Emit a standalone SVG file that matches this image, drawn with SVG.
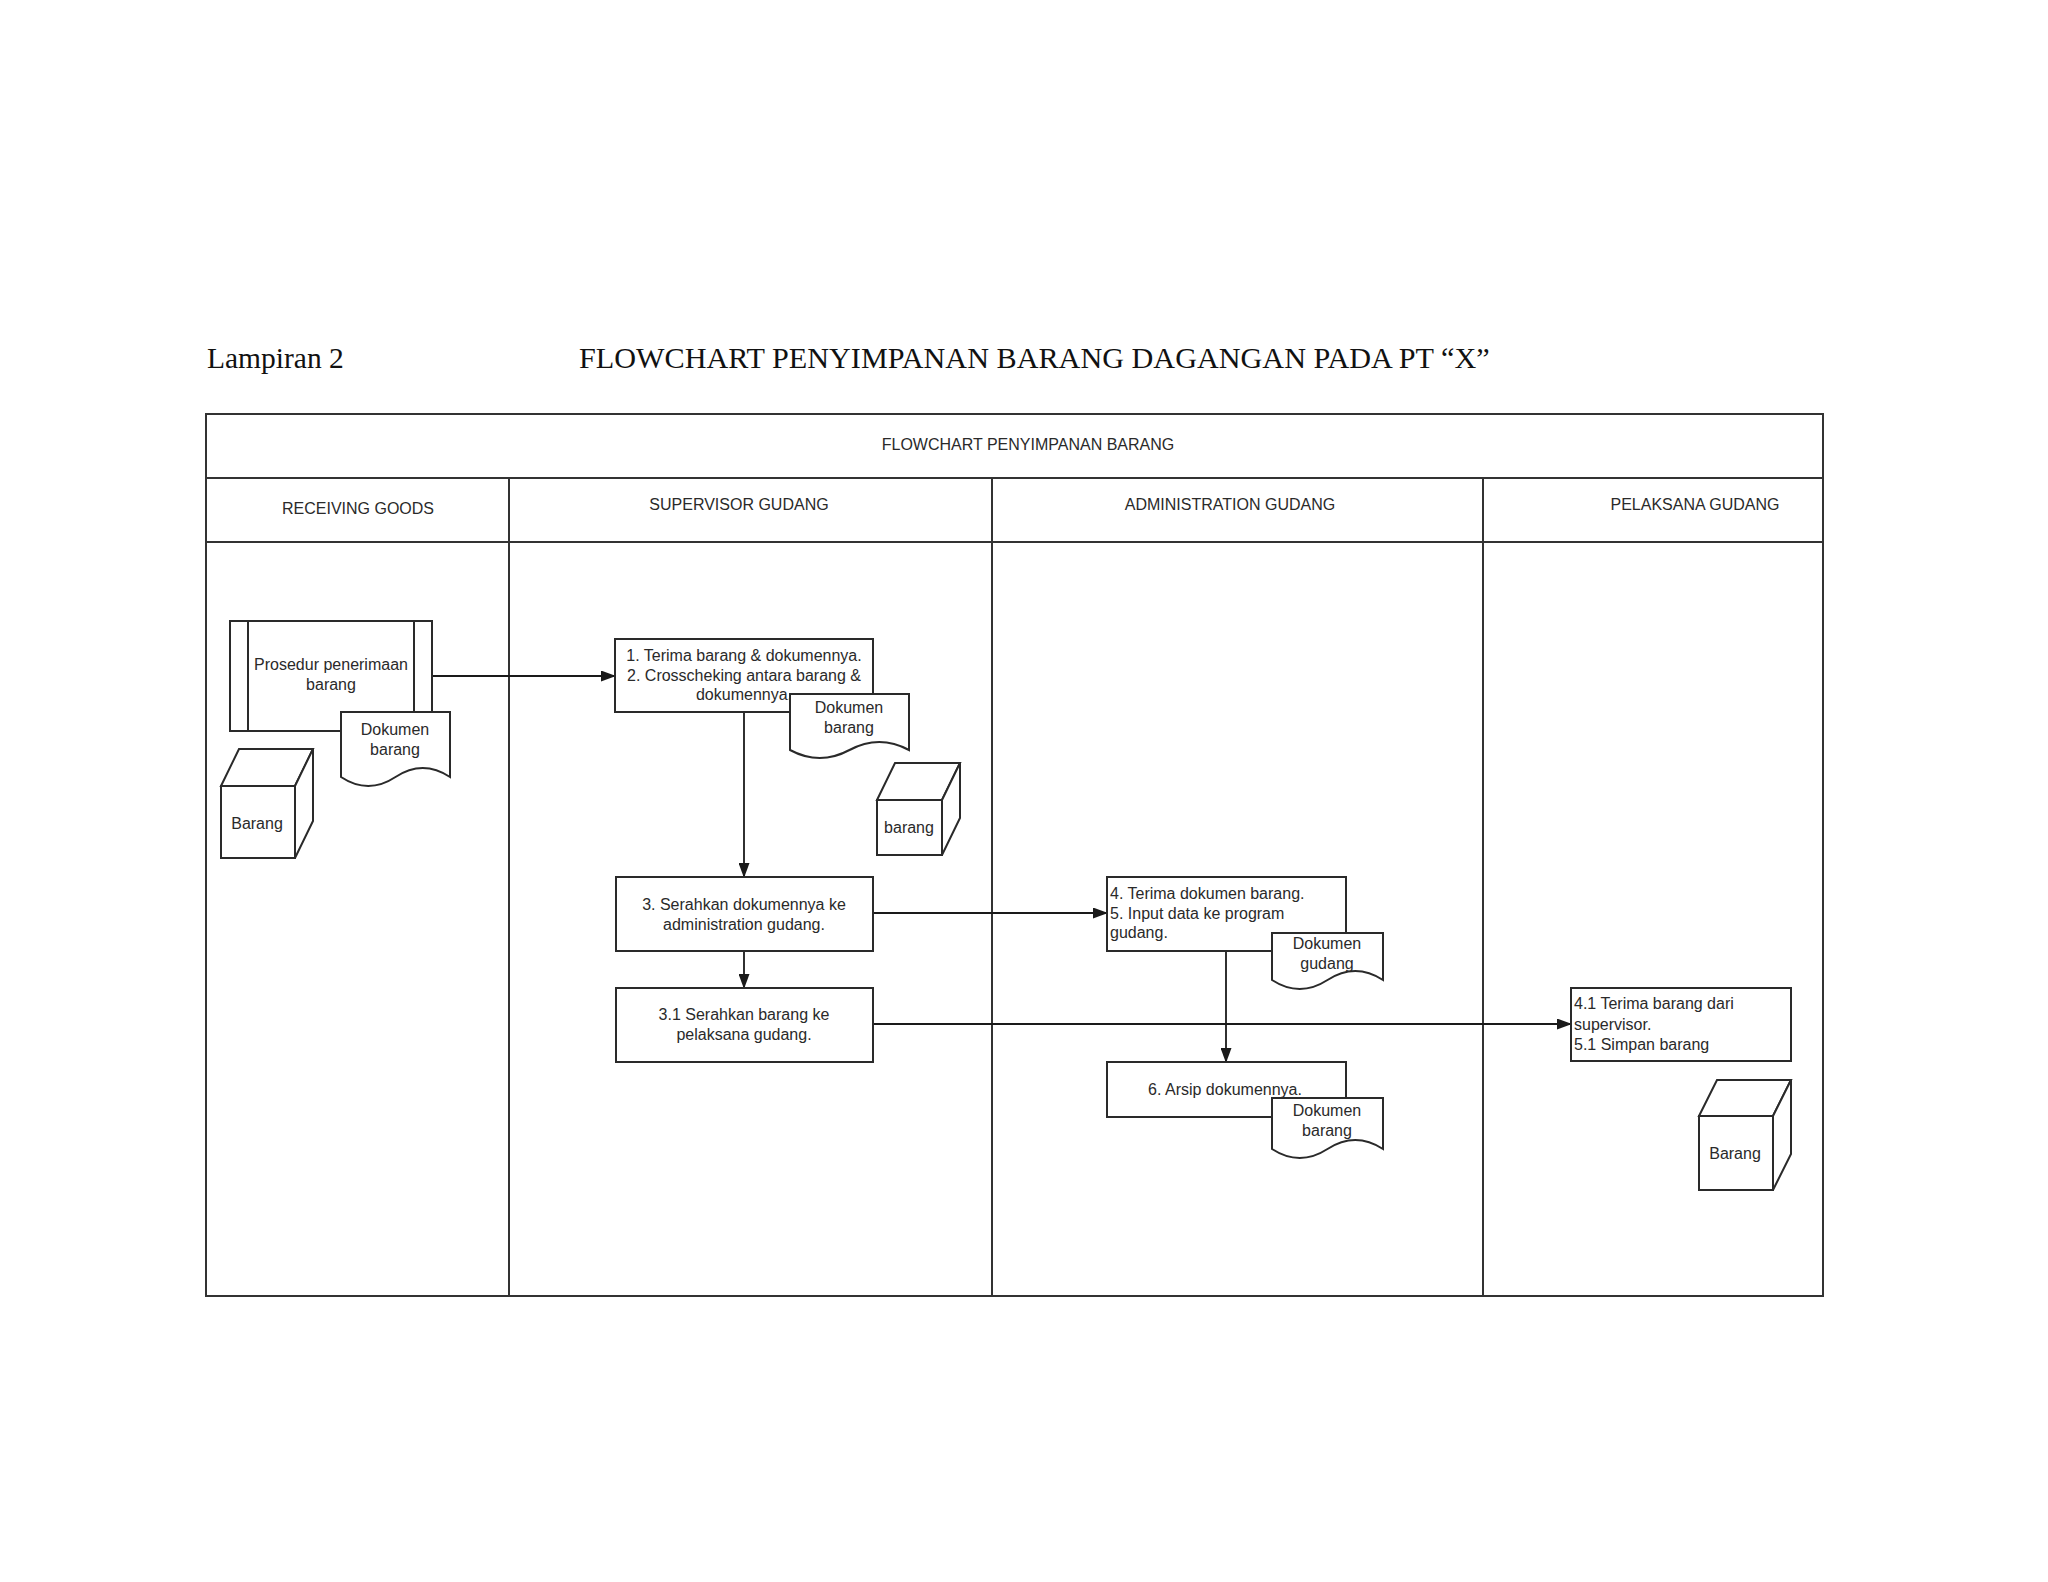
<svg xmlns="http://www.w3.org/2000/svg" width="2048" height="1582" viewBox="0 0 2048 1582">
<defs>
<marker id="arr" markerWidth="15" markerHeight="11" refX="14" refY="5.5" orient="auto" markerUnits="userSpaceOnUse">
<path d="M0,0 L15,5.5 L0,11 Z" fill="#1a1a1a"/>
</marker>
<style>
.t{font-family:"Liberation Serif","Times New Roman",serif;font-size:29.5px;fill:#111}
.s{font-family:"Liberation Sans",Arial,sans-serif;font-size:16px;fill:#2a2a2a}
.m{text-anchor:middle}
.f{fill:#fff;stroke:#2a2a2a;stroke-width:2}
.fr{fill:none;stroke:#333;stroke-width:2}
.ln{fill:none;stroke:#1a1a1a;stroke-width:1.8;marker-end:url(#arr)}
</style>
</defs>
<rect width="2048" height="1582" fill="#fff"/>

<g id="titles">
<text class="t" x="207" y="368">Lampiran 2</text>
<text class="t" x="579" y="368" style="font-size:30.2px">FLOWCHART PENYIMPANAN BARANG DAGANGAN PADA PT “X”</text>
</g>

<g id="frame">
<rect class="fr" x="206" y="414" width="1617" height="882"/>
<line class="fr" x1="206" y1="478" x2="1823" y2="478" stroke-width="2.5"/>
<line class="fr" x1="206" y1="542" x2="1823" y2="542" stroke-width="2.5"/>
<line class="fr" x1="509" y1="478" x2="509" y2="1296"/>
<line class="fr" x1="992" y1="478" x2="992" y2="1296"/>
<line class="fr" x1="1483" y1="478" x2="1483" y2="1296"/>
<text class="s m" x="1028" y="450">FLOWCHART PENYIMPANAN BARANG</text>
<text class="s m" x="358" y="514">RECEIVING GOODS</text>
<text class="s m" x="739" y="510">SUPERVISOR GUDANG</text>
<text class="s m" x="1230" y="510">ADMINISTRATION GUDANG</text>
<text class="s m" x="1695" y="510">PELAKSANA GUDANG</text>
</g>

<g id="connectors">
<line class="ln" x1="432" y1="676" x2="615" y2="676"/>
<line class="ln" x1="744" y1="712" x2="744" y2="877"/>
<line class="ln" x1="744" y1="951" x2="744" y2="988"/>
<line class="ln" x1="873" y1="913" x2="1107" y2="913"/>
<line class="ln" x1="873" y1="1024" x2="1571" y2="1024"/>
<line class="ln" x1="1226" y1="951" x2="1226" y2="1062"/>
</g>

<g id="prosedur">
<rect class="f" x="230" y="621" width="202" height="110"/>
<line class="f" x1="248" y1="621" x2="248" y2="731"/>
<line class="f" x1="414" y1="621" x2="414" y2="731"/>
<text class="s m" x="331" y="670">Prosedur penerimaan</text>
<text class="s m" x="331" y="690">barang</text>
</g>

<g id="doc-rg">
<path class="f" d="M341,712 H450 V777 Q422.75,759 395.5,777 T341,777 Z"/>
<text class="s m" x="395" y="735">Dokumen</text>
<text class="s m" x="395" y="755">barang</text>
</g>

<g id="box-rg">
<rect class="f" x="221" y="786" width="74" height="72"/>
<path class="f" d="M221,786 L239,749 L313,749 L295,786 Z"/>
<path class="f" d="M295,786 L313,749 L313,821 L295,858 Z"/>
<text class="s m" x="257" y="829">Barang</text>
</g>

<g id="step1">
<rect class="f" x="615" y="639" width="258" height="73"/>
<text class="s m" x="744" y="661">1. Terima barang &amp; dokumennya.</text>
<text class="s m" x="744" y="681">2. Crosscheking antara barang &amp;</text>
<text class="s m" x="744" y="700">dokumennya.</text>
</g>

<g id="doc-sg">
<path class="f" d="M790,694 H909 V750 Q879.25,734 849.5,750 T790,750 Z"/>
<text class="s m" x="849" y="713">Dokumen</text>
<text class="s m" x="849" y="733">barang</text>
</g>

<g id="box-sg">
<rect class="f" x="877" y="800" width="65" height="55"/>
<path class="f" d="M877,800 L895,763 L960,763 L942,800 Z"/>
<path class="f" d="M942,800 L960,763 L960,818 L942,855 Z"/>
<text class="s m" x="909" y="833">barang</text>
</g>

<g id="step3">
<rect class="f" x="616" y="877" width="257" height="74"/>
<text class="s m" x="744" y="910">3. Serahkan dokumennya ke</text>
<text class="s m" x="744" y="930">administration gudang.</text>
</g>

<g id="step31">
<rect class="f" x="616" y="988" width="257" height="74"/>
<text class="s m" x="744" y="1020">3.1 Serahkan barang ke</text>
<text class="s m" x="744" y="1040">pelaksana gudang.</text>
</g>

<g id="step4">
<rect class="f" x="1107" y="877" width="239" height="74"/>
<text class="s" x="1110" y="899">4. Terima dokumen barang.</text>
<text class="s" x="1110" y="919">5.  Input data ke program</text>
<text class="s" x="1110" y="938">gudang.</text>
</g>

<g id="doc-gudang">
<path class="f" d="M1272,933 H1383 V980 Q1355.25,962 1327.5,980 T1272,980 Z"/>
<text class="s m" x="1327" y="949">Dokumen</text>
<text class="s m" x="1327" y="969">gudang</text>
</g>

<g id="step6">
<rect class="f" x="1107" y="1062" width="239" height="55"/>
<text class="s m" x="1225" y="1095">6. Arsip dokumennya.</text>
</g>

<g id="doc-ag">
<path class="f" d="M1272,1098 H1383 V1149 Q1355.25,1131 1327.5,1149 T1272,1149 Z"/>
<text class="s m" x="1327" y="1116">Dokumen</text>
<text class="s m" x="1327" y="1136">barang</text>
</g>

<g id="step41">
<rect class="f" x="1571" y="988" width="220" height="73"/>
<text class="s" x="1574" y="1009">4.1 Terima barang dari</text>
<text class="s" x="1574" y="1030">supervisor.</text>
<text class="s" x="1574" y="1050">5.1 Simpan barang</text>
</g>

<g id="box-pg">
<rect class="f" x="1699" y="1116" width="74" height="74"/>
<path class="f" d="M1699,1116 L1717,1080 L1791,1080 L1773,1116 Z"/>
<path class="f" d="M1773,1116 L1791,1080 L1791,1154 L1773,1190 Z"/>
<text class="s m" x="1735" y="1159">Barang</text>
</g>
</svg>
